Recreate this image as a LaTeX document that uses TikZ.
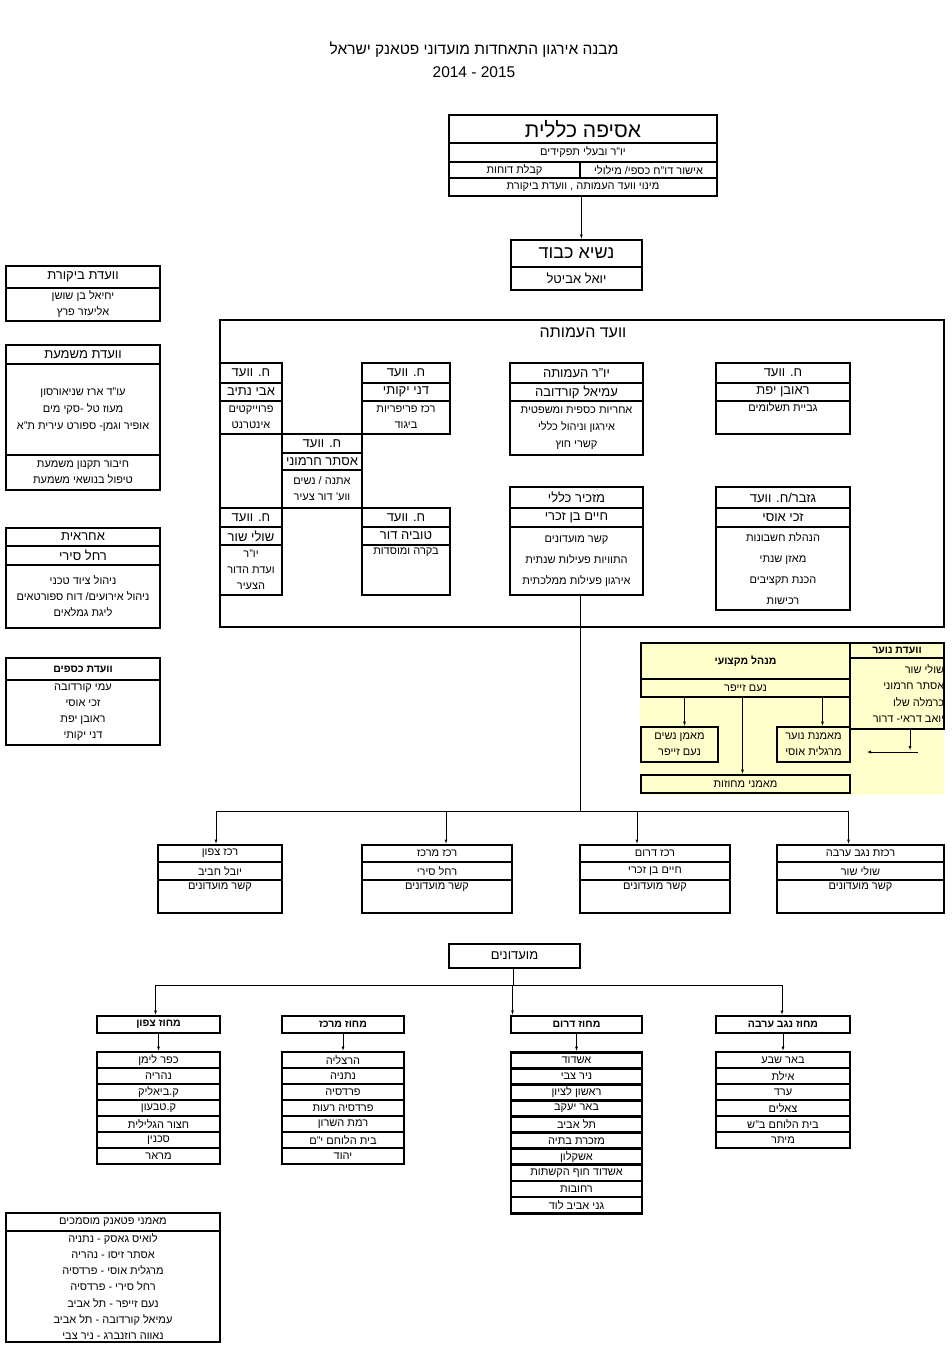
\documentclass[tikz,border=0pt]{standalone}
\usepackage{fontspec}
\setmainfont{Liberation Sans}[Script=Hebrew]
\usepackage{tikz}
\usetikzlibrary{fit,calc}
\TeXXeTstate=1
\newcommand\R[1]{\beginR #1\endR}
% box cell from corner to corner, text set at its centre
\newcommand\cell[7][]{\node[cell,fit={(#3,#4) (#5,#6)}] (#2) {};
  \node[txt,#1] (#2t) at (#2.center) {#7};}
\definecolor{paleyel}{HTML}{FFFFCC}
\tikzset{
  cell/.style={draw, line width=2.8pt, inner sep=0pt},
  txt/.style={inner sep=0pt, align=center, font=\fontsize{11}{16}\selectfont},
  big/.style={font=\fontsize{21}{24}\selectfont},
  mid/.style={font=\fontsize{13}{16}\selectfont},
  bld/.style={font=\fontsize{10.5}{16}\selectfont\bfseries},
  yel/.style={fill=paleyel},
  arr/.style={-latex, thin}
}
\begin{document}
\begin{tikzpicture}[x=1pt,y=-1pt]
\useasboundingbox (0,0) rectangle (951,1365);
\node[font=\fontsize{15.5}{18}\selectfont] (title) at (474,50) {\R{מבנה אירגון התאחדות מועדוני פטאנק  ישראל}};
\node[font=\fontsize{15.5}{18}\selectfont] (years) at (474,72) {2014 - 2015};

% general assembly
\cell[big]{g1}{449}{115}{717}{143}{\R{אסיפה כללית}}
\cell{g2}{449}{143}{717}{162}{\R{יו"ר ובעלי תפקידים}}
\cell{g3a}{580}{162}{717}{178}{\R{אישור דו"ח כספי/ מילולי}}
\cell{g3b}{449}{162}{580}{178}{\R{קבלת דוחות}}
\cell{g4}{449}{178}{717}{196}{\R{מינוי וועד העמותה , וועדת ביקורת}}
\cell[font=\fontsize{18}{20}\selectfont]{h1}{511}{240}{642}{267}{\R{נשיא כבוד}}
\cell[mid]{h2}{511}{267}{642}{290}{\R{יואל אביטל}}
\draw[arr] (g4.south -| g3b.east) -- (h1.north -| g3b.east);

% left column
\cell[mid]{a1}{6}{266}{160}{288}{\R{וועדת ביקורת}}
\cell{a2}{6}{288}{160}{321}{\R{יחיאל בן שושן}\\\R{אליעזר פרץ}}
\cell[mid]{d1}{6}{345}{160}{364}{\R{וועדת משמעת}}
\cell[font=\fontsize{11}{17}\selectfont]{d2}{6}{364}{160}{455}{\R{עו"ד ארז שניאורסון}\\\R{מעוז טל -סקי מים}\\\R{אופיר וגמן- ספורט עירית ת"א}}
\cell{d3}{6}{455}{160}{490}{\R{חיבור תקנון משמעת}\\\R{טיפול בנושאי משמעת}}
\cell[mid]{r1}{6}{528}{160}{546}{\R{אחראית}}
\cell[mid]{r2}{6}{546}{160}{565}{\R{רחל סירי}}
\cell{r3}{6}{565}{160}{628}{\R{ניהול ציוד טכני}\\\R{ניהול אירועים/ דוח ספורטאים}\\\R{ליגת גמלאים}}
\cell[bld]{f1}{6}{658}{160}{680}{\R{וועדת כספים}}
\cell{f2}{6}{680}{160}{745}{\R{עמי קורדובה}\\\R{זכי אוסי}\\\R{ראובן יפת}\\\R{דני יקותי}}

% board
\node[cell,fit={(220,320) (944,627)}] (board) {};
\node[font=\fontsize{16}{18}\selectfont] (boardt) at (583,333) {\R{וועד העמותה}};
\cell[mid]{n1}{220}{363}{282}{383}{\R{ח. וועד}}
\cell[mid]{n2}{220}{383}{282}{401}{\R{אבי נתיב}}
\cell{n3}{220}{401}{282}{434}{\R{פרוייקטים}\\\R{אינטרנט}}
\cell[mid]{e1}{282}{434}{362}{453}{\R{ח. וועד}}
\cell[mid]{e2}{282}{453}{362}{470}{\R{אסתר חרמוני}}
\cell{e3}{282}{470}{362}{508}{\R{אתנה / נשים}\\\R{ווע' דור צעיר}}
\cell[mid]{s1}{220}{508}{282}{527}{\R{ח. וועד}}
\cell[mid]{s2}{220}{527}{282}{545}{\R{שולי שור}}
\cell{s3}{220}{545}{282}{595}{\R{יו"ר}\\\R{ועדת הדור}\\\R{הצעיר}}
\cell[mid]{k1}{362}{363}{450}{383}{\R{ח. וועד}}
\cell[mid]{k2}{362}{383}{450}{401}{\R{דני יקותי}}
\cell{k3}{362}{401}{450}{434}{\R{רכז פריפריות}\\\R{ביגוד}}
\cell[mid]{t1}{362}{508}{450}{527}{\R{ח. וועד}}
\cell[mid]{t2}{362}{527}{450}{545}{\R{טוביה דור}}
\cell{t3}{362}{545}{450}{595}{\R{בקרה ומוסדות}\\\strut\\\strut}
\cell[mid]{c1}{510}{363}{643}{383}{\R{יו"ר העמותה}}
\cell[mid]{c2}{510}{383}{643}{401}{\R{עמיאל קורדובה}}
\cell[font=\fontsize{11}{17}\selectfont]{c3}{510}{401}{643}{455}{\R{אחריות כספית ומשפטית}\\\R{אירגון וניהול כללי}\\\R{קשרי חוץ}}
\cell[mid]{m1}{510}{487}{643}{508}{\R{מזכיר כללי}}
\cell[mid]{m2}{510}{508}{643}{527}{\R{חיים בן זכרי}}
\cell[font=\fontsize{11}{21}\selectfont]{m3}{510}{527}{643}{595}{\R{קשר מועדונים}\\\R{התוויות פעילות שנתית}\\\R{אירגון פעילות ממלכתית}}
\cell[mid]{y1}{716}{363}{850}{383}{\R{ח. וועד}}
\cell[mid]{y2}{716}{383}{850}{401}{\R{ראובן יפת}}
\cell{y3}{716}{401}{850}{434}{\R{גביית תשלומים}\\\strut}
\cell[mid]{z1}{716}{487}{850}{508}{\R{גזבר/ח. וועד}}
\cell[mid]{z2}{716}{508}{850}{527}{\R{זכי אוסי}}
\cell[font=\fontsize{11}{21}\selectfont]{z3}{716}{527}{850}{610}{\R{הנהלת חשבונות}\\\R{מאזן שנתי}\\\R{הכנת תקציבים}\\\R{רכישות}}

% professional
\fill[paleyel] (640,642) rectangle (944,795);
\node[cell,yel,fit={(641,643) (850,697)}] (pbg) {};
\node[cell,yel,fit={(850,643) (944,729)}] (qbg) {};
\node[cell,yel,fit={(641,727) (718,762)}] (wbg) {};
\node[cell,yel,fit={(777,727) (850,762)}] (ybg) {};
\node[cell,yel,fit={(641,775) (850,793)}] (dbg) {};
\cell[bld]{p1}{641}{643}{850}{679}{\R{מנהל מקצועי}}
\cell{p2}{641}{679}{850}{697}{\R{נעם זייפר}}
\cell[bld]{q1}{850}{643}{944}{658}{\R{וועדת נוער}}
\node[cell,fit={(850,658) (944,729)}] (q2) {};
\node[anchor=east,align=right,inner sep=1pt,font=\fontsize{11}{16.5}\selectfont] (q2t) at (q2.east) {\R{שולי שור}\\\R{אסתר חרמוני}\\\R{כרמלה שלו}\\\R{יואב דראי- דרור}};
\cell{wc}{641}{727}{718}{762}{\R{מאמן נשים}\\\R{נעם זייפר}}
\cell{yc}{777}{727}{850}{762}{\R{מאמנת נוער}\\\R{מרגלית אוסי}}
\cell{dc}{641}{775}{850}{793}{\R{מאמני מחוזות}}
\draw[arr] ([xshift=5pt]wc.north |- p2.south) -- ([xshift=5pt]wc.north);
\draw[arr] ([xshift=-3pt]dc.north |- p2.south) -- ([xshift=-3pt]dc.north);
\draw[arr] ([xshift=9pt]yc.north |- p2.south) -- ([xshift=9pt]yc.north);
\coordinate (qa) at (910,750);
\coordinate (qb) at (918,752);
\coordinate (qc) at (867,752);
\draw[arr] ([xshift=13pt]q2.south) -- (qa);
\draw[arr] (qb) -- (qc);

% regions
\cell{rn1}{158}{845}{282}{862}{\R{רכז צפון}}
\cell{rn2}{158}{862}{282}{880}{\R{יובל חביב}}
\cell{rn3}{158}{880}{282}{913}{\R{קשר מועדונים}\\\strut}
\cell{rc1}{362}{845}{512}{862}{\R{רכז מרכז}}
\cell{rc2}{362}{862}{512}{880}{\R{רחל סירי}}
\cell{rc3}{362}{880}{512}{913}{\R{קשר מועדונים}\\\strut}
\cell{rs1}{580}{845}{730}{862}{\R{רכז דרום}}
\cell{rs2}{580}{862}{730}{880}{\R{חיים בן זכרי}}
\cell{rs3}{580}{880}{730}{913}{\R{קשר מועדונים}\\\strut}
\cell{re1}{777}{845}{944}{862}{\R{רכזת נגב ערבה}}
\cell{re2}{777}{862}{944}{880}{\R{שולי שור}}
\cell{re3}{777}{880}{944}{913}{\R{קשר מועדונים}\\\strut}
\coordinate (bus) at (580,811);
\draw[thin] (m3.south -| bus) -- (bus);
\draw[thin] ([xshift=-4pt]rn1.north |- bus) -- ([xshift=-12pt]re1.north |- bus);
\draw[arr] ([xshift=-4pt]rn1.north |- bus) -- ([xshift=-4pt]rn1.north);
\draw[arr] ([xshift=9pt]rc1.north |- bus) -- ([xshift=9pt]rc1.north);
\draw[arr] ([xshift=-18pt]rs1.north |- bus) -- ([xshift=-18pt]rs1.north);
\draw[arr] ([xshift=-12pt]re1.north |- bus) -- ([xshift=-12pt]re1.north);

% clubs
\cell[mid]{clubs}{449}{944}{580}{968}{\R{מועדונים}}
\coordinate (cbus) at (513,985);
\draw[thin] (clubs.south -| cbus) -- (cbus);
\cell[bld]{dn}{97}{1016}{220}{1033}{\R{מחוז צפון}}
\cell[bld]{dm}{282}{1016}{404}{1033}{\R{מחוז מרכז}}
\cell[bld]{ds}{511}{1016}{642}{1033}{\R{מחוז דרום}}
\cell[bld]{de}{716}{1016}{850}{1033}{\R{מחוז נגב ערבה}}
\draw[thin] ([xshift=-3pt]dn.north |- cbus) -- ([xshift=-1pt]de.north |- cbus);
\draw[arr] ([xshift=-3pt]dn.north |- cbus) -- ([xshift=-3pt]dn.north);
\draw[arr] ([xshift=-64pt]ds.north |- cbus) -- ([xshift=-64pt]ds.north);
\draw[arr] ([xshift=-1pt]de.north |- cbus) -- ([xshift=-1pt]de.north);
\foreach \t [count=\i] in {כפר לימן,נהריה,ק.ביאליק,ק.טבעון,חצור הגלילית,סכנין,מראר}
  \cell{ln\i}{97}{{1036+16*\i}}{220}{{1052+16*\i}}{\R{\t}};
\foreach \t [count=\i] in {הרצליה,נתניה,פרדסיה,פרדסיה רעות,רמת השרון,בית הלוחם י"ם,יהוד}
  \cell{lm\i}{282}{{1036+16*\i}}{404}{{1052+16*\i}}{\R{\t}};
\foreach \t [count=\i] in {אשדוד,ניר צבי,ראשון לציון,באר יעקב,תל אביב,מזכרת בתיה,אשקלון,אשדוד  חוף הקשתות,רחובות,גני אביב לוד}
  \cell{ls\i}{511}{{1036+16.1*\i}}{642}{{1052.1+16.1*\i}}{\R{\t}};
\foreach \t [count=\i] in {באר שבע,אילת,ערד,צאלים,בית הלוחם ב"ש,מיתר}
  \cell{le\i}{716}{{1036+16*\i}}{850}{{1052+16*\i}}{\R{\t}};
\draw[arr] (dn.south) -- (ln1.north);
\draw[arr] (dm.south) -- (lm1.north);
\draw[arr] (ds.south) -- (ls1.north);
\draw[arr] (de.south) -- (le1.north);

% coaches
\cell{co1}{6}{1213}{220}{1231}{\R{מאמני פטאנק מוסמכים}}
\cell[font=\fontsize{11}{16.2}\selectfont]{co2}{6}{1231}{220}{1342}{\R{לואיס גאסק - נתניה}\\\R{אסתר זיסו - נהריה}\\\R{מרגלית אוסי - פרדסיה}\\\R{רחל סירי - פרדסיה}\\\R{נעם זייפר - תל אביב}\\\R{עמיאל קורדובה - תל אביב}\\\R{נאווה רוזנברג - ניר צבי}}
\end{tikzpicture}
\end{document}
